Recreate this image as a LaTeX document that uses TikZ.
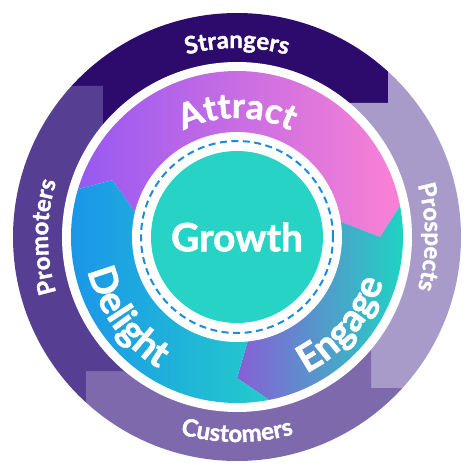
\documentclass[tikz,border=0pt]{standalone}
\usepackage{fontspec}
\setmainfont{Lato}[BoldFeatures={FakeBold=1.5}]
\usetikzlibrary{decorations.text}
\definecolor{cStr}{HTML}{2D0B6C}
\definecolor{cPro}{HTML}{A89BC9}
\definecolor{cCus}{HTML}{7F69AD}
\definecolor{cPrm}{HTML}{563E92}
\definecolor{aL}{HTML}{9558F2}
\definecolor{aR}{HTML}{FB82D4}
\definecolor{eL}{HTML}{8B5BD5}
\definecolor{eR}{HTML}{1FD3C2}
\definecolor{dL}{HTML}{1B96E9}
\definecolor{dR}{HTML}{24CFC9}
\definecolor{tealc}{HTML}{27D3C4}
\definecolor{dashblue}{HTML}{1A8BE0}
\tikzset{
  outertext/.style={decorate, decoration={text along path, text align=center,
     text={|\bfseries\fontsize{24}{24}\selectfont\color{white}|#1}}},
  ringtext/.style={decorate, decoration={text along path, text align=center,
     text={|\bfseries\fontsize{35}{35}\selectfont\color{white}|#1}}},
  bigringtext/.style={decorate, decoration={text along path, text align=center,
     text={|\bfseries\fontsize{38}{38}\selectfont\color{white}|#1}}},
}
\begin{document}
\begin{tikzpicture}[x=1pt,y=1pt]
\useasboundingbox (-237,-237) rectangle (237,237);
% outer ring
\begin{scope}
  \clip (0,0) circle (224pt);
  \foreach \ang/\col in {0/cStr,-90/cPro,-180/cCus,-270/cPrm}{
    \fill[\col, rotate=\ang] (0,0) -- (60,134) -- (151,134) -- (151,300) -- (-300,300)
      -- (-300,151) -- (-134,151) -- (-134,60) -- cycle;
  }
\end{scope}
\fill[white] (0,0) circle (175pt);
% middle ring
\begin{scope}
  \clip (0,0) circle (166pt);
  \begin{scope}
    \clip (0,0) -- (169:100pt) -- (155.5:137pt) -- (165:175pt) -- (165:260pt) -- (90:260pt)
      -- (13.8:260pt) -- (13.8:175pt) -- (0:143pt) -- (10:100pt) -- cycle;
    \shade[left color=aL, right color=aR] (-166,-166) rectangle (166,166);
  \end{scope}
  \begin{scope}
    \clip (0,0) -- (10:100pt) -- (0:143pt) -- (13.8:175pt) -- (13.8:260pt) -- (-38:260pt)
      -- (284:260pt) -- (284:175pt) -- (270:141pt) -- (277:100pt) -- cycle;
    \shade[left color=eL, right color=eR] (-5,-166) rectangle (166,166);
  \end{scope}
  \begin{scope}
    \clip (0,0) -- (277:100pt) -- (270:141pt) -- (284:175pt) -- (284:260pt) -- (220:260pt)
      -- (165:260pt) -- (165:175pt) -- (155.5:137pt) -- (169:100pt) -- cycle;
    \shade[left color=dL, right color=dR] (-166,-166) rectangle (45,166);
  \end{scope}
\end{scope}
\fill[white] (0,0) circle (105pt);
\draw[dashblue, line width=2pt, dash pattern=on 7pt off 4.5pt] (0,0) circle (96pt);
\node[circle, fill=tealc, minimum size=172pt, inner sep=0pt, text=white,
      font=\bfseries\fontsize{39}{39}\selectfont] (growth) at (0,0) {Growth};
% outer labels
\path[outertext=Strangers] (180:189pt) arc[start angle=180, end angle=0, radius=189pt];
\path[outertext=Prospects] (90:188pt) arc[start angle=90, end angle=-90, radius=188pt];
\path[outertext=Promoters] (270:189pt) arc[start angle=270, end angle=90, radius=189pt];
\path[outertext=Customers] (180:205pt) arc[start angle=180, end angle=360, radius=205pt];
% ring labels
\path[ringtext=Attract] (180:119pt) arc[start angle=180, end angle=0, radius=119pt];
\path[bigringtext=Engage] (230:153pt) arc[start angle=230, end angle=410, radius=153pt];
\path[bigringtext=Delight] (126:153pt) arc[start angle=126, end angle=306, radius=153pt];
\end{tikzpicture}
\end{document}
